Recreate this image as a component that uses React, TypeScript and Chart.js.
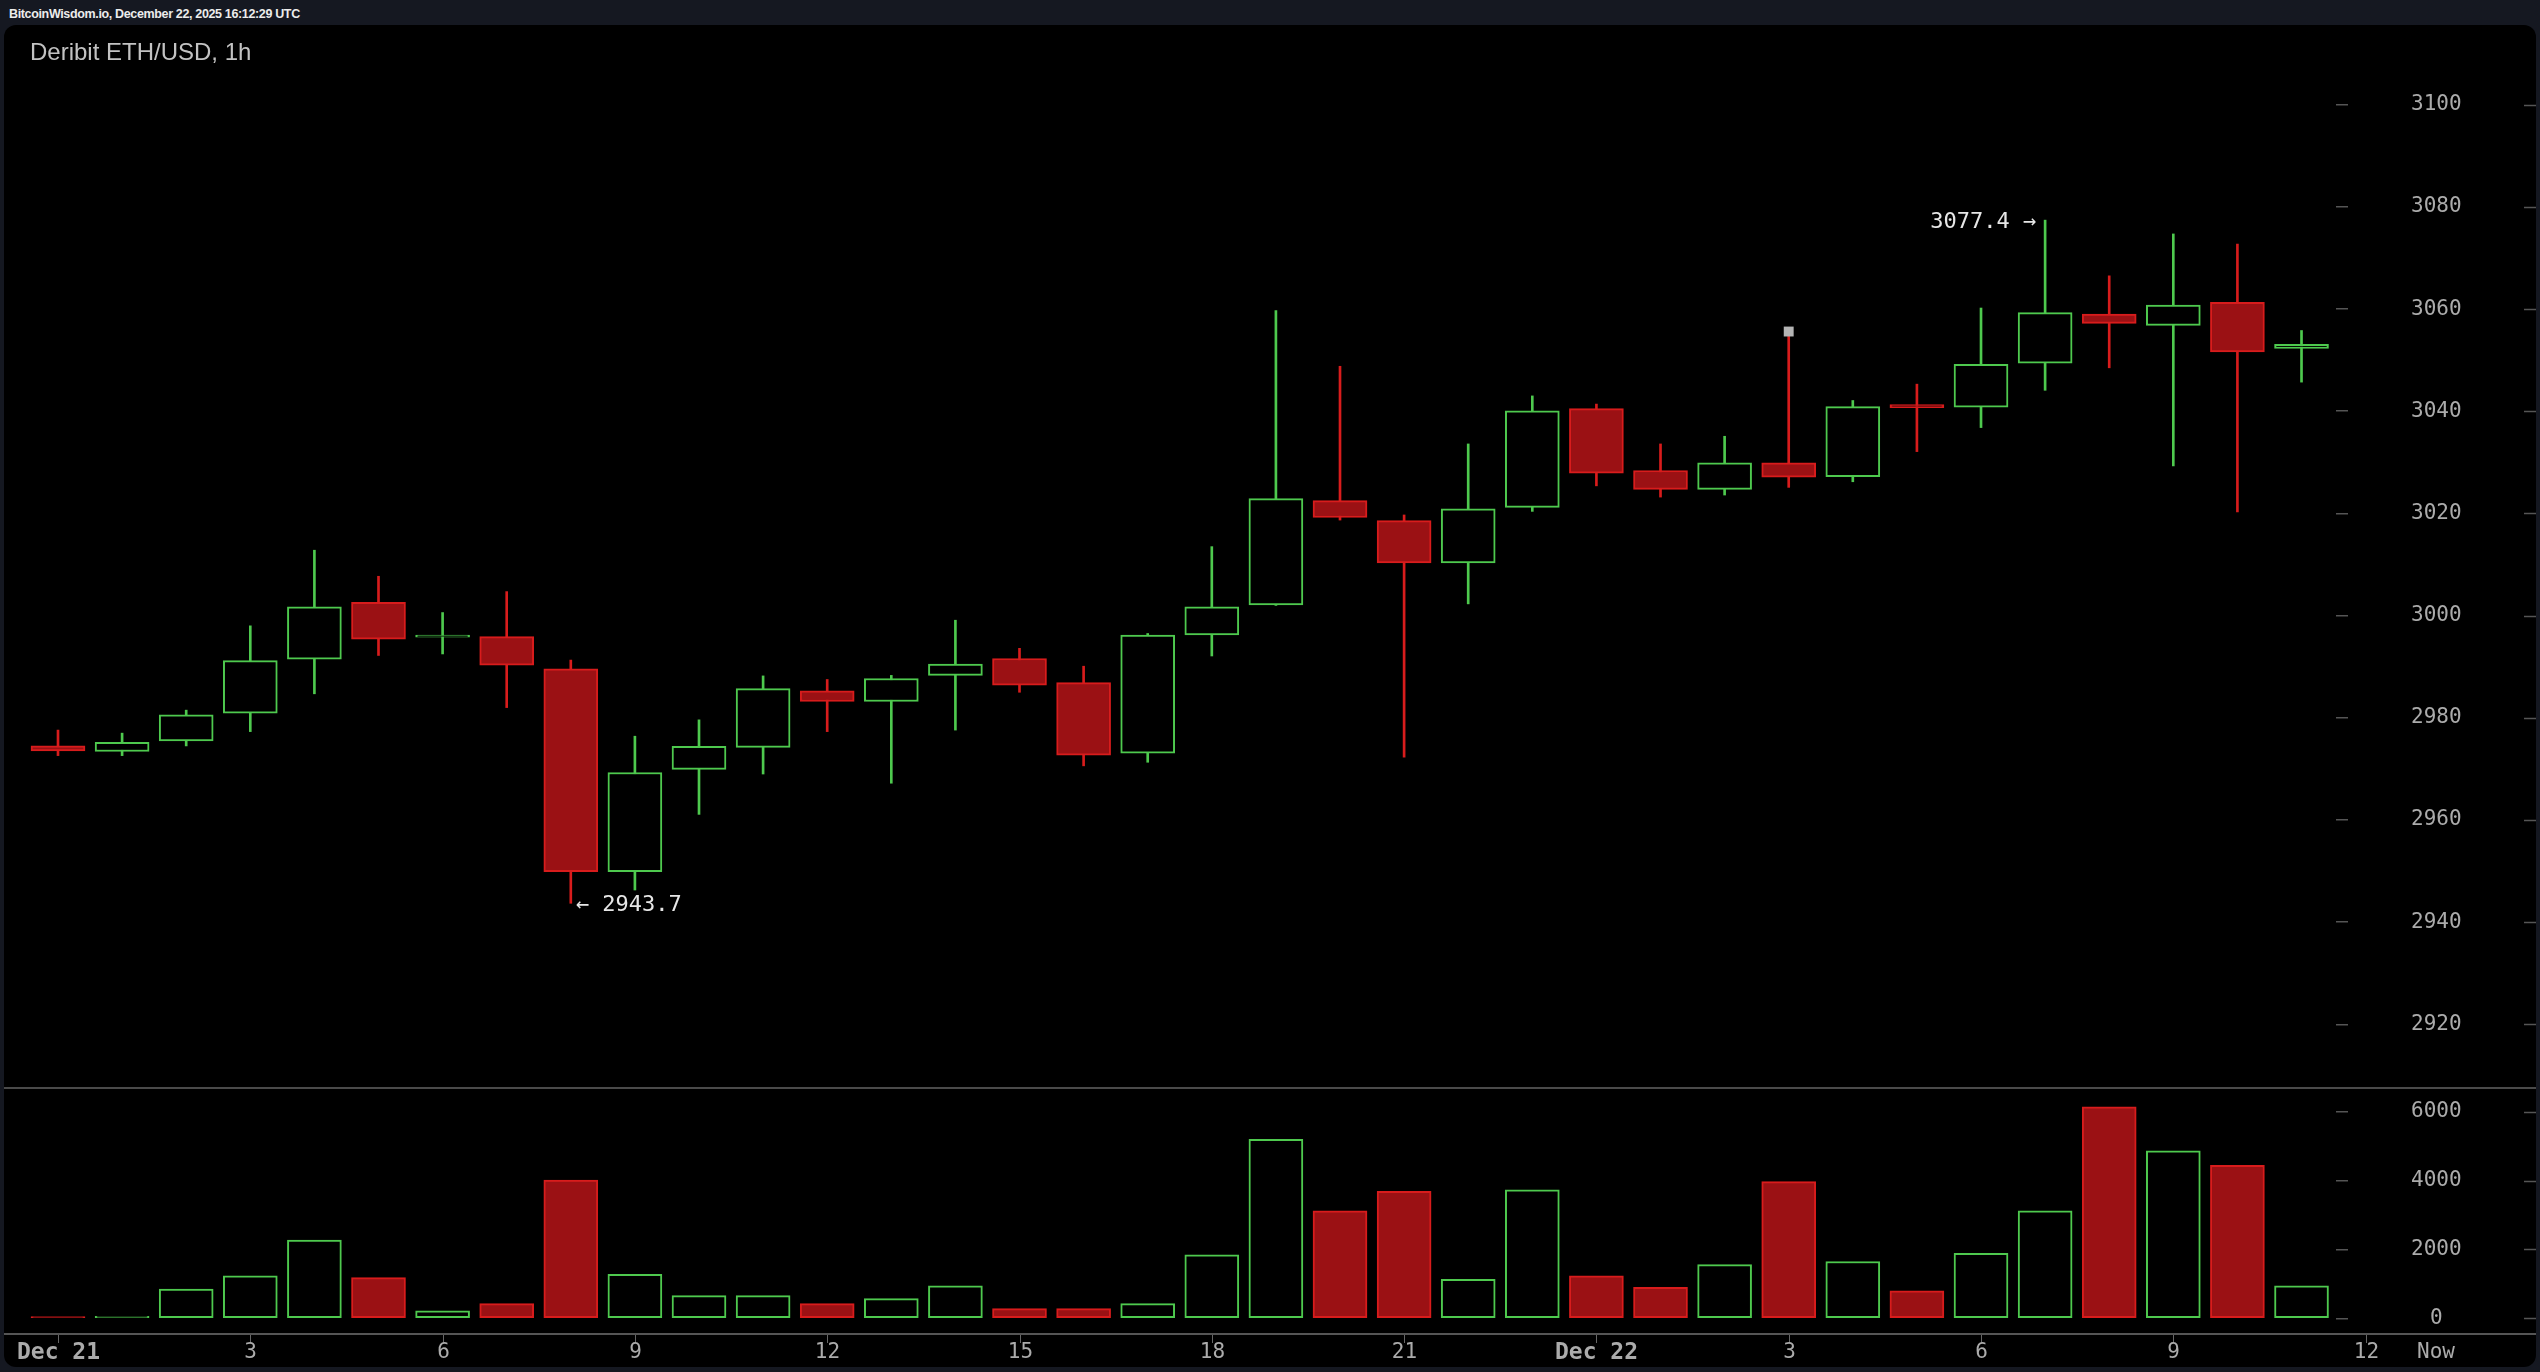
import React, { useEffect, useRef } from 'react';
import { Chart, registerables } from 'chart.js';

Chart.register(...registerables);

// ---- Data (Deribit ETH/USD, 1h candles, Dec 21 00:00 -> Dec 22 11:00) ----
const candleIndex = [
  0, 1, 2, 3, 4, 5, 6, 7, 8, 9, 10, 11, 12, 13, 14, 15, 16, 17,
  18, 19, 20, 21, 22, 23, 24, 25, 26, 27, 28, 29, 30, 31, 32, 33, 34, 35,
];
const openP = [
  2974.5, 2973.4, 2975.5, 2980.9, 2991.5, 3002.6, 2995.8, 2995.9, 2989.6, 2949.9,
  2969.9, 2974.2, 2985.3, 2983.2, 2988.3, 2991.6, 2986.9, 2973.1, 2996.2, 3002.1,
  3022.5, 3018.6, 3010.3, 3021.2, 3040.5, 3028.4, 3024.7, 3029.9, 3027.2, 3041.3,
  3040.8, 3049.4, 3059.0, 3056.8, 3061.3, 3052.3,
];
const highP = [
  2977.6, 2977.0, 2981.5, 2998.0, 3012.8, 3007.7, 3000.6, 3004.7, 2991.3, 2976.4,
  2979.6, 2988.2, 2987.5, 2988.3, 2999.1, 2993.6, 2990.1, 2996.5, 3013.5, 3059.7,
  3048.8, 3019.7, 3033.6, 3043.0, 3041.4, 3033.6, 3035.1, 3055.4, 3042.1, 3045.3,
  3060.2, 3077.4, 3066.5, 3074.7, 3072.7, 3055.8,
];
const lowP = [
  2972.6, 2972.6, 2974.5, 2977.3, 2984.7, 2992.2, 2992.5, 2982.0, 2943.7, 2946.3,
  2961.1, 2969.0, 2977.3, 2967.2, 2977.6, 2985.0, 2970.6, 2971.3, 2992.1, 3002.0,
  3018.7, 2972.3, 3002.3, 3020.4, 3025.4, 3023.2, 3023.6, 3025.1, 3026.2, 3032.1,
  3036.8, 3044.1, 3048.5, 3029.3, 3020.3, 3045.7,
];
const closeP = [
  2973.5, 2975.2, 2980.6, 2991.2, 3001.7, 2995.4, 2996.2, 2990.3, 2949.9, 2969.3,
  2974.4, 2985.7, 2983.2, 2987.7, 2990.5, 2986.4, 2972.7, 2996.2, 3001.7, 3022.9,
  3019.2, 3010.3, 3020.9, 3040.1, 3027.9, 3024.7, 3029.9, 3027.1, 3040.9, 3040.7,
  3049.2, 3059.3, 3057.2, 3060.8, 3051.6, 3053.1,
];
const volumes = [
  50, 60, 850, 1230, 2270, 1180, 220, 425, 4015, 1275,
  660, 660, 425, 570, 945, 280, 280, 425, 1840, 5200,
  3120, 3685, 1135, 3730, 1230, 900, 1560, 3970, 1650, 800,
  1890, 3120, 6140, 4865, 4440, 945,
];
const markerIndex = [27];
const markerValue = [3055.6];

const priceTicks = [2920, 2940, 2960, 2980, 3000, 3020, 3040, 3060, 3080, 3100];
const volumeTicks = [0, 2000, 4000, 6000];
const xTickIndex = [0, 3, 6, 9, 12, 15, 18, 21, 24, 27, 30, 33, 36];
const xTickLabels = ['Dec 21', '3', '6', '9', '12', '15', '18', '21', 'Dec 22', '3', '6', '9', '12'];
const nowLabel = 'Now';
const headerText = 'BitcoinWisdom.io, December 22, 2025 16:12:29 UTC';
const titleText = 'Deribit ETH/USD, 1h';

// ---- Styles ----
const GREEN = '#4ec94e';
const RED_FILL = '#9b1114';
const RED_LINE = '#d81c1c';
const AXIS_TEXT = '#ababab';
const MONO = '"DejaVu Sans Mono", "Liberation Mono", monospace';

const W = 2532;
const H = 1342;

const isUp = (i: number) => closeP[i] >= openP[i];

const overlayPlugin = {
  id: 'overlay',
  afterDatasetsDraw(chart: any) {
    const { ctx, scales, chartArea } = chart;
    const x = scales.x;
    const y = scales.y;
    const yVol = scales.yVol;
    ctx.save();

    // pane separator and x axis line
    ctx.strokeStyle = '#4a4a4a';
    ctx.lineWidth = 2;
    ctx.beginPath();
    ctx.moveTo(0, y.bottom);
    ctx.lineTo(W, y.bottom);
    ctx.stroke();
    ctx.strokeStyle = '#555';
    ctx.beginPath();
    ctx.moveTo(0, yVol.bottom);
    ctx.lineTo(W, yVol.bottom);
    ctx.stroke();

    // right edge tick dashes
    ctx.strokeStyle = '#555';
    ctx.lineWidth = 1.5;
    const dash = (scale: any, vals: number[]) => {
      vals.forEach((v) => {
        const py = Math.round(scale.getPixelForValue(v)) + 0.5;
        ctx.beginPath();
        ctx.moveTo(W - 12, py);
        ctx.lineTo(W, py);
        ctx.stroke();
      });
    };
    dash(y, priceTicks);
    dash(yVol, volumeTicks);

    // x ticks & labels
    ctx.strokeStyle = '#666';
    ctx.lineWidth = 1;
    ctx.fillStyle = AXIS_TEXT;
    ctx.textAlign = 'center';
    ctx.textBaseline = 'middle';
    xTickIndex.forEach((idx, k) => {
      const px = Math.round(x.getPixelForValue(idx)) + 0.5;
      ctx.beginPath();
      ctx.moveTo(px, yVol.bottom + 1);
      ctx.lineTo(px, yVol.bottom + 9);
      ctx.stroke();
      const lbl = xTickLabels[k];
      const bold = lbl.startsWith('Dec');
      ctx.font = bold ? `bold 23px ${MONO}` : `21px ${MONO}`;
      ctx.fillText(lbl, px, yVol.bottom + 19);
    });
    ctx.font = `21px ${MONO}`;
    ctx.fillText(nowLabel, (chartArea.right + W) / 2, yVol.bottom + 19);

    // high / low annotations
    let hi = 0;
    let lo = 0;
    highP.forEach((v, i) => { if (v > highP[hi]) hi = i; });
    lowP.forEach((v, i) => { if (v < lowP[lo]) lo = i; });
    ctx.fillStyle = '#e6e6e6';
    ctx.font = `22px ${MONO}`;
    ctx.textBaseline = 'middle';
    ctx.textAlign = 'right';
    ctx.fillText(`${highP[hi].toFixed(1)} \u2192`, x.getPixelForValue(candleIndex[hi]) - 9, y.getPixelForValue(highP[hi]) + 2);
    ctx.textAlign = 'left';
    ctx.fillText(`\u2190 ${lowP[lo].toFixed(1)}`, x.getPixelForValue(candleIndex[lo]) + 5, y.getPixelForValue(lowP[lo]) + 2);

    ctx.restore();
  },
};

export default function App() {
  const canvasRef = useRef<HTMLCanvasElement | null>(null);

  useEffect(() => {
    const canvas = canvasRef.current;
    if (!canvas) return;
    const lineColors = candleIndex.map((i) => (isUp(i) ? GREEN : RED_LINE));
    const fillColors = candleIndex.map((i) => (isUp(i) ? '#000000' : RED_FILL));

    const axisCommon = {
      type: 'linear',
      position: 'right',
      stack: 'main',
      offset: false,
      beginAtZero: false,
      border: { display: false },
      grid: {
        display: true,
        drawOnChartArea: false,
        drawTicks: true,
        tickLength: 12,
        color: '#555',
        lineWidth: 1.5,
      },
      ticks: {
        color: AXIS_TEXT,
        font: { family: MONO, size: 21 },
        padding: 63,
        crossAlign: 'center',
        callback: (v: any) => String(v),
      },
      afterFit: (s: any) => {
        s.width = 200;
        s.paddingTop = 0;
        s.paddingBottom = 0;
      },
    };

    const chart = new Chart(canvas, {
      type: 'bar',
      data: {
        datasets: [
          {
            type: 'bar',
            label: 'wick',
            data: candleIndex.map((i) => ({ x: i, y: [lowP[i], highP[i]] })),
            xAxisID: 'x',
            yAxisID: 'y',
            backgroundColor: lineColors,
            borderWidth: 0,
            barThickness: 2,
            grouped: false,
            order: 3,
          } as any,
          {
            type: 'bar',
            label: 'body',
            data: candleIndex.map((i) => ({ x: i, y: [openP[i], closeP[i]] })),
            xAxisID: 'x',
            yAxisID: 'y',
            backgroundColor: fillColors,
            borderColor: lineColors,
            borderWidth: 2,
            borderSkipped: false,
            barThickness: 54,
            grouped: false,
            order: 2,
          } as any,
          {
            type: 'bar',
            label: 'volume',
            data: candleIndex.map((i) => ({ x: i, y: volumes[i] })),
            xAxisID: 'x',
            yAxisID: 'yVol',
            backgroundColor: fillColors,
            borderColor: lineColors,
            borderWidth: 2,
            borderSkipped: false,
            barThickness: 54,
            grouped: false,
            order: 2,
          } as any,
          {
            type: 'scatter',
            label: 'marker',
            data: markerIndex.map((i, k) => ({ x: i, y: markerValue[k] })),
            xAxisID: 'x',
            yAxisID: 'y',
            pointStyle: 'rect',
            pointRadius: 7,
            backgroundColor: '#b4b4b4',
            borderWidth: 0,
            order: 1,
          } as any,
        ],
      },
      options: {
        responsive: false,
        maintainAspectRatio: false,
        devicePixelRatio: 1,
        animation: false,
        events: [],
        layout: { autoPadding: false, padding: { left: 0, right: 0, top: 2, bottom: 33 } },
        plugins: {
          legend: { display: false },
          tooltip: { enabled: false },
          title: { display: false },
        },
        scales: {
          x: {
            type: 'linear',
            display: false,
            offset: false,
            min: -0.8424,
            max: 35.538,
            grid: { offset: false },
          },
          y: {
            ...axisCommon,
            stackWeight: 1061,
            min: 2907.55,
            max: 3115.2,
            afterBuildTicks: (s: any) => {
              s.ticks = priceTicks.map((v) => ({ value: v }));
            },
          },
          yVol: {
            ...axisCommon,
            stackWeight: 246,
            min: -456,
            max: 6688,
            afterBuildTicks: (s: any) => {
              s.ticks = volumeTicks.map((v) => ({ value: v }));
            },
          },
        } as any,
      },
      plugins: [overlayPlugin],
    } as any);

    return () => {
      chart.destroy();
    };
  }, []);

  return (
    <div
      style={{
        position: 'fixed',
        left: 0,
        top: 0,
        width: 2540,
        height: 1372,
        background: '#151821',
        overflow: 'hidden',
      }}
    >
      <div
        style={{
          position: 'absolute',
          left: 9,
          top: 8,
          fontFamily: '"Liberation Sans", Arial, sans-serif',
          fontSize: 12.5,
          lineHeight: '13px',
          fontWeight: 600,
          color: '#ececec',
          letterSpacing: -0.35,
          whiteSpace: 'nowrap',
        }}
      >
        {headerText}
      </div>
      <div
        style={{
          position: 'absolute',
          left: 4,
          top: 25,
          width: W,
          height: H,
          background: '#000',
          borderRadius: 12,
          overflow: 'hidden',
        }}
      >
        <canvas ref={canvasRef} width={W} height={H} style={{ display: 'block', width: W, height: H }} />
        <div
          style={{
            position: 'absolute',
            left: 26,
            top: 15,
            fontFamily: '"Liberation Sans", Arial, sans-serif',
            fontSize: 24,
            lineHeight: '24px',
            color: '#c2c2c2',
            whiteSpace: 'nowrap',
          }}
        >
          {titleText}
        </div>
      </div>
    </div>
  );
}
